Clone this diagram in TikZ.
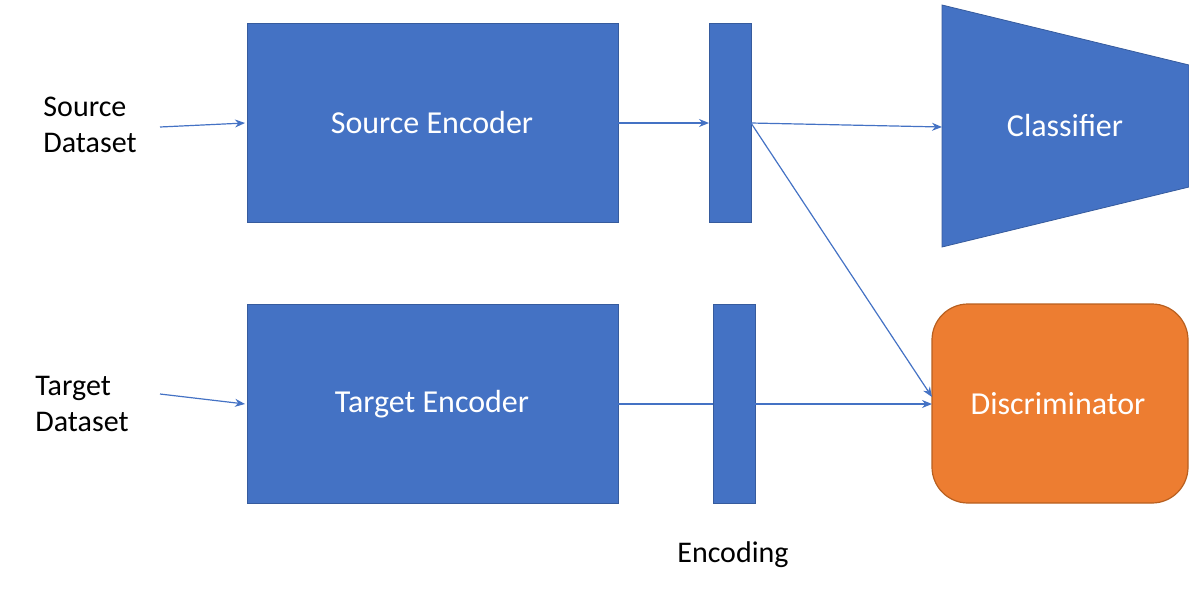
\documentclass[tikz,border=0pt]{standalone}
\usepackage{fontspec}
\setmainfont{Carlito}
\usetikzlibrary{arrows.meta}
\definecolor{blu}{HTML}{4472C4}
\definecolor{org}{HTML}{ED7D31}
\definecolor{orgd}{HTML}{B85F1F}
\begin{document}
\begin{tikzpicture}[x=0.5pt,y=-0.5pt,
  box/.style={fill=blu,draw=blu!80!black,line width=0.4pt},
  lbl/.style={text=white,font=\fontsize{16}{18}\selectfont},
  ar/.style={draw=blu,line width=0.6pt,-{Stealth[length=5pt,width=4pt]}},
  ln/.style={draw=blu,line width=0.6pt},
  txt/.style={font=\fontsize{15}{18}\selectfont,align=center}]
\useasboundingbox (0,0) rectangle (1189,600);
\path[box] (247,23) rectangle (618,222);
\node[lbl] (se) at (432,123) {Source Encoder};
\path[box] (247,304) rectangle (618,503);
\node[lbl] (te) at (432,404) {Target Encoder};
\path[box] (709,23) rectangle (751,222);
\path[box] (713,304) rectangle (755,503);
\path[box] (942,5) -- (1189,65) -- (1189,187) -- (942,247) -- cycle;
\node[lbl] (cl) at (1065,126) {Classifier};
\path[fill=org,draw=orgd,line width=0.6pt,rounded corners=18pt] (932,304) rectangle (1188,503);
\node[lbl] (di) at (1058,404) {Discriminator};
\node[txt,align=left] (sd) at (90,125) {Source\\Dataset};
\node[txt,align=left] (td) at (82,404) {Target\\Dataset};
\node[txt] (enc) at (733,555) {Encoding};
\coordinate (s1) at (160,127); \coordinate (s2) at (245,123);
\coordinate (t1) at (160,394); \coordinate (t2) at (245,404);
\coordinate (a1) at (618,123); \coordinate (a2) at (709,123);
\coordinate (b1) at (751,123); \coordinate (b2) at (942,127);
\coordinate (c2) at (932,397);
\coordinate (d1) at (618,404); \coordinate (d2) at (713,404);
\coordinate (e1) at (755,404); \coordinate (e2) at (932,404);
\draw[ar] (s1) -- (s2);
\draw[ar] (t1) -- (t2);
\draw[ar] (a1) -- (a2);
\draw[ar] (b1) -- (b2);
\draw[ar] (b1) -- (c2);
\draw[ln] (d1) -- (d2);
\draw[ar] (e1) -- (e2);
\end{tikzpicture}
\end{document}
